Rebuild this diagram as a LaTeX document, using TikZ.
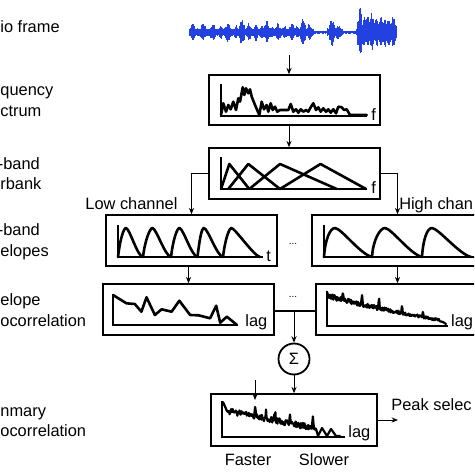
\documentclass[tikz,border=0pt]{standalone}
\usepackage{fontspec}
\setmainfont{Liberation Sans}
\usetikzlibrary{arrows.meta}
\definecolor{bleuonde}{RGB}{35,65,225}
\begin{document}
\begin{tikzpicture}[x=0.5pt,y=-0.5pt]
\tikzset{boite/.style={draw, line width=0.75pt, minimum width=85.5pt, minimum height=25.5pt, inner sep=0pt},
  courbe/.style={line width=1.3pt, line join=round, line cap=round},
  bruit/.style={line width=1.1pt, line join=round, line cap=round},
  axe/.style={line width=0.7pt},
  fleche/.style={line width=0.5pt, -{Stealth[length=3.2pt,width=2.6pt]}},
  etiq/.style={font=\fontsize{8.2}{10}\selectfont, inner sep=0pt},
  points/.style={font=\fontsize{5}{6}\selectfont, inner sep=0pt},
  onde/.style={bleuonde, line width=0.55pt}}
\useasboundingbox (0,0) rectangle (474,474);
\clip (0,0) rectangle (474,474);
\pgfmathsetseed{3}
\foreach \i in {0,...,344}{
  \pgfmathsetmacro\wx{190+0.6*\i}
  \pgfmathsetmacro\wa{4-2.5*(\wx>314)*(\wx<327)-2.5*(\wx>343)*(\wx<356)+5*(\wx>357)
    +5*max(0,1-abs(\wx-193)/3)+6*max(0,1-abs(\wx-203)/3)+5*max(0,1-abs(\wx-213)/3)
    +3*max(0,1-abs(\wx-221)/2)+8*max(0,1-abs(\wx-228)/3)+4*max(0,1-abs(\wx-236)/2)
    +11*max(0,1-abs(\wx-242)/3)+6*max(0,1-abs(\wx-249)/2.5)+5*max(0,1-abs(\wx-256)/2.5)
    +3*max(0,1-abs(\wx-262)/2)+8*max(0,1-abs(\wx-267)/3)+3*max(0,1-abs(\wx-272)/2)
    +6*max(0,1-abs(\wx-278)/3)+3*max(0,1-abs(\wx-285)/2)+6*max(0,1-abs(\wx-292)/3)
    +3*max(0,1-abs(\wx-297)/2)+11*max(0,1-abs(\wx-303)/3.5)+5*max(0,1-abs(\wx-309)/2.5)
    +11*max(0,1-abs(\wx-332)/3.5)+5*max(0,1-abs(\wx-338)/2.5)+19*max(0,1-abs(\wx-360)/2.5)
    +9*max(0,1-abs(\wx-364)/2)+10*max(0,1-abs(\wx-368)/2)+11*max(0,1-abs(\wx-372)/2.5)
    +7*max(0,1-abs(\wx-377)/2)+8*max(0,1-abs(\wx-381)/2)+9*max(0,1-abs(\wx-385)/2)
    +7*max(0,1-abs(\wx-389)/2)+8*max(0,1-abs(\wx-393)/2.5)}
  \draw[onde] (\wx,{32.3-\wa*(0.6+0.4*rnd)}) -- (\wx,{32.3+\wa*(0.6+0.4*rnd)});
}
\node[boite, minimum height=25pt] (B1) at (294.5,100) {};
\node[boite] (B2) at (294.5,173.5) {};
\node[boite] (B3) at (191.5,240.5) {};
\node[boite] (B4) at (397.5,240.5) {};
\node[boite] (B5) at (188.5,309.5) {};
\node[boite] (B6) at (401.5,309.5) {};
\node[draw, circle, line width=0.9pt, minimum size=15.5pt, inner sep=0pt, font=\fontsize{8.2}{10}\selectfont] (S) at (294,359) {Σ};
\node[boite, minimum width=83pt, minimum height=26pt] (B7) at (294,420) {};
\node[etiq, anchor=base west] (L1) at (0,33) {io frame};
\node[etiq, anchor=base west] (L2) at (0,96) {quency};
\node[etiq, anchor=base west] (L3) at (0,117) {ctrum};
\node[etiq, anchor=base west] (L4) at (-2.5,170) {-band};
\node[etiq, anchor=base west] (L5) at (0,190) {rbank};
\node[etiq, anchor=base west] (L6) at (-2.5,236) {-band};
\node[etiq, anchor=base west] (L7) at (0,257) {elopes};
\node[etiq, anchor=base west] (L8) at (0,306) {elope};
\node[etiq, anchor=base west] (L9) at (0,327) {ocorrelation};
\node[etiq, anchor=base west] (L10) at (0,416) {nmary};
\node[etiq, anchor=base west] (L11) at (0,436) {ocorrelation};
\node[etiq, anchor=base west] (low) at (85,210) {Low channel};
\node[etiq, anchor=base east] (high) at (473.5,210) {High chan};
\node[etiq, anchor=base west] (peak) at (391,410) {Peak selec};
\node[etiq, anchor=base] (fast) at (248,465) {Faster};
\node[etiq, anchor=base] (slow) at (324,465) {Slower};
\node[etiq, anchor=base west] (f1) at (371,121) {f};
\node[etiq, anchor=base west] (f2) at (371,194) {f};
\node[etiq, anchor=base west] (t1) at (266,262) {t};
\node[etiq, anchor=base west] (lag1) at (245,327) {lag};
\node[etiq, anchor=base east] (lag2) at (473.5,327) {lag};
\node[etiq, anchor=base west] (lag3) at (348,437) {lag};
\node[points, anchor=base] (D1) at (293,245) {...};
\node[points, anchor=base] (D2) at (293,298) {...};
\coordinate (W) at (289,55);
\draw[fleche] (W) -- (W |- B1.north);
\draw[fleche] (B1.south -| W) -- (B2.north -| W);
\draw[fleche] (B2.west) -| (B3.north);
\draw[fleche] (B2.east) -| (B4.north);
\draw[fleche] (B3.south -| B5.north) -- (B5.north);
\draw[fleche] (B4.south) -- (B4.south |- B6.north);
\coordinate (J) at (294,311);
\draw[line width=0.5pt] (B5.east |- J) -- (B6.west |- J);
\draw[fleche] (J) -- (S.north);
\draw[fleche] (S.south) -- (B7.north);
\coordinate (M1) at (255,380);
\coordinate (M2) at (255,400);
\draw[fleche] (M1) -- (M2);
\coordinate (P) at (398,420);
\draw[fleche] (B7.east) -- (P);
\draw[axe] (221,84) -- (221,116) -- (367,116);
\draw[courbe] (221,115) -- (223.3,103.3) -- (226,111.7) -- (228.3,105) -- (230.7,109.3) -- (233.3,101.7) -- (236,110) -- (238.3,98.3) -- (240,101.7) -- (242.7,87.3) -- (244.3,95) -- (246,88.3) -- (248.3,93.3) -- (250,89.3) -- (251.7,96.7) -- (255,105) -- (259.3,115) -- (261.7,101.7) -- (264,109.3) -- (266.7,105) -- (268.3,111.7) -- (270.7,103.3) -- (272.7,110) -- (275,106.7) -- (277.3,111.7) -- (280,110) -- (288.3,110) -- (290.7,104) -- (293.3,111.7) -- (296,109.3) -- (298.3,112.7) -- (300.7,109.3) -- (303.3,111.7) -- (306,110) -- (308.3,111.7) -- (310.7,107.3) -- (313.3,103.3) -- (316,110) -- (318.3,107.3) -- (320.7,111.7) -- (323.3,108.3) -- (326,111.7) -- (328.3,109.3) -- (330.7,112.7) -- (333.3,109.3) -- (336,113.3) -- (338.3,106.7) -- (341.7,107.3) -- (344,110) -- (346.7,109.3) -- (350,115) -- (366.7,115);
\draw[axe] (221,157) -- (221,189) -- (367,189);
\draw[courbe] (221,189) -- (229.3,164) -- (249.3,189);
\draw[courbe] (228.3,189) -- (248.3,164) -- (280,189);
\draw[courbe] (249.3,189) -- (280,164) -- (336.7,189);
\draw[courbe] (280,189) -- (320.5,164) -- (366,189);
\draw[axe] (118,225) -- (118,257) -- (263,257);
\foreach \a/\b/\c in {118/126/143, 143/152.5/171, 171/179.5/197.5, 197.5/204/223, 223/231.5/260}
  \draw[courbe] (\a,257) .. controls ({\a+2},240) and ({\b-2.5},228) .. (\b,228) .. controls ({\b+4},229) and ({\c-6},256) .. (\c,257);
\draw[axe] (324,225) -- (324,257) -- (480,257);
\foreach \a/\b/\c in {324/335/372, 372/385/422, 422/432/471}
  \draw[courbe] (\a,257) .. controls ({\a+1},240) and ({\b-5},228) .. (\b,228) .. controls ({\b+7},229) and ({\c-12},254) .. (\c,257);
\draw[axe] (113,294) -- (113,325) -- (237,325);
\draw[courbe] (113,295) -- (126.4,303.3) -- (134.8,304) -- (141.4,311.7) -- (146.5,297.3) -- (154.9,315) -- (161.6,309.3) -- (171.6,311.7) -- (179.3,300.7) -- (190.1,315) -- (198.5,315.3) -- (210.1,318.3) -- (216.2,305.7) -- (220.2,322.7) -- (226.9,316.7) -- (237,325);
\draw[axe] (327,291) -- (327,326) -- (448,326);
\draw[bruit] (327,292) -- (329,298) -- plot[domain=330:440, samples=200] (\x, {296+0.26*(\x-328)-0.0004*(\x-328)^2+2.8*(1-0.005*(\x-328))*rand-6*max(0,1-abs(\x-343)/1)-8*max(0,1-abs(\x-362)/1)-10*max(0,1-abs(\x-379)/1)-7*max(0,1-abs(\x-402)/1)-5*max(0,1-abs(\x-423)/1)}) -- (443,322) -- (446,324);
\draw[axe] (222,401) -- (222,437) -- (345,437);
\draw[bruit] (223,402) -- (227,411) -- plot[domain=228:316, samples=170] (\x, {411+0.2*(\x-228)+3*rand-13*max(0,1-abs(\x-255)/1)-8*max(0,1-abs(\x-266)/1)-10*max(0,1-abs(\x-275)/1)-12*max(0,1-abs(\x-290)/1)-10*max(0,1-abs(\x-313)/1)}) -- (318,436) -- (322,428) -- (327,436) -- (331,429) -- (336,436) -- (340,436);
\end{tikzpicture}
\end{document}
